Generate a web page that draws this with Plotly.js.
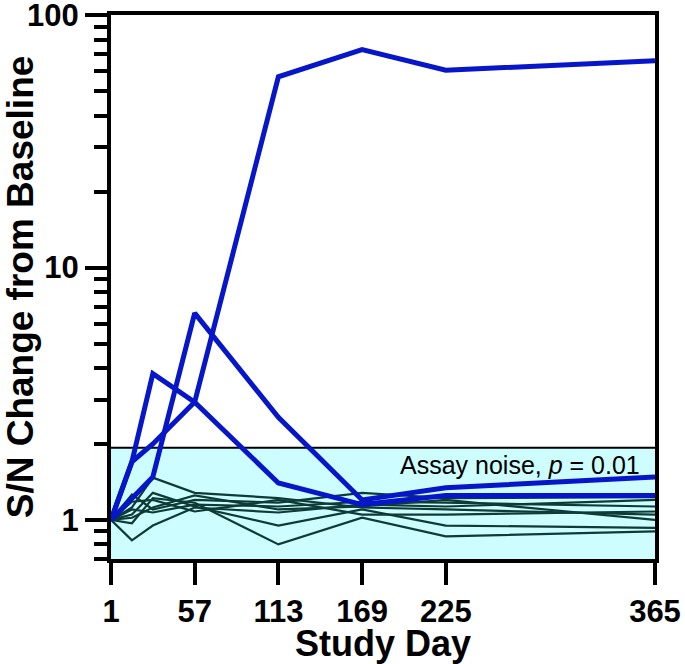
<!DOCTYPE html>
<html>
<head>
<meta charset="utf-8">
<script src="https://cdn.plot.ly/plotly-3.0.1.min.js"></script>
<style>html,body{margin:0;padding:0;background:#fff;}#chart{width:685px;height:664px;}</style>
</head>
<body>
<div id="chart"></div>
<script>
// Study days sampled
var days = [1, 15, 29, 57, 113, 169, 225, 365];

// Responders (blue)
var blueHigh = [1, 1.7, 2.0, 2.93, 57, 73, 60.5, 66];
var blueMid  = [1, 1.22, 1.48, 6.6, 2.55, 1.2, 1.34, 1.48];
var blueLow  = [1, 1.7, 3.8, 2.93, 1.4, 1.15, 1.25, 1.25];

// Non-responders (dark green)
var green1 = [1, 1.12, 1.47, 1.28, 1.22, 1.12, 1.10, 1.05];
var green2 = [1, 1.26, 1.10, 1.20, 1.17, 1.28, 1.22, 1.23];
var green3 = [1, 0.83, 0.95, 1.12, 1.07, 1.15, 1.13, 1.20];
var green4 = [1, 0.97, 1.22, 1.17, 0.80, 1.02, 0.86, 0.90];
var green5 = [1, 1.05, 1.28, 1.13, 0.95, 1.10, 0.95, 0.93];
var green6 = [1, 1.10, 1.07, 1.15, 1.13, 1.18, 1.17, 1.13];
var green7 = [1, 1.18, 1.20, 1.08, 1.20, 1.05, 1.05, 1.08];
var green8 = [1, 1.02, 1.12, 1.25, 1.10, 1.13, 1.20, 1.00];

// Assay noise threshold
var noiseLevel = 1.93;
var noiseLabel = 'Assay noise, <i>p</i> = 0.01';

// Axis ticks
var xTicks = [1, 57, 113, 169, 225, 365];
var yTicks = [1, 10, 100];
var yTickText = ['1', '10', '100'];

var FONT = 'Liberation Sans, Arial, Helvetica, sans-serif';
var greenColor = '#0e3b36';
var blueColor = '#0616c8';

var traces = [];
[green1, green2, green3, green4, green5, green6, green7, green8].forEach(function (g) {
  traces.push({x: days, y: g, mode: 'lines', type: 'scatter',
    line: {color: greenColor, width: 2.2}, hoverinfo: 'skip'});
});
[blueLow, blueMid, blueHigh].forEach(function (b) {
  traces.push({x: days, y: b, mode: 'lines', type: 'scatter',
    line: {color: blueColor, width: 5}, hoverinfo: 'skip'});
});

var layout = {
  width: 685, height: 664,
  margin: {l: 111, r: 30, t: 15, b: 105},
  paper_bgcolor: '#ffffff', plot_bgcolor: '#ffffff',
  showlegend: false,
  font: {family: FONT, color: '#000'},
  xaxis: {
    range: [1, 365], tickvals: xTicks, ticktext: xTicks.map(String),
    showgrid: false, zeroline: false,
    showline: true, linewidth: 4, linecolor: '#000', mirror: true,
    ticks: 'outside', ticklen: 22, tickwidth: 4, tickcolor: '#000',
    ticklabeloverflow: 'allow',
    tickfont: {family: FONT, size: 31, weight: 'bold', color: '#000'},
    title: {text: 'Study Day', font: {family: FONT, size: 36, weight: 'bold', color: '#000'}, standoff: 4}
  },
  yaxis: {
    type: 'log', range: [Math.log10(0.7), 2.0008],
    tickvals: yTicks, ticktext: yTickText,
    showgrid: false, zeroline: false,
    showline: true, linewidth: 4, linecolor: '#000', mirror: true,
    ticks: 'outside', ticklen: 22, tickwidth: 4, tickcolor: '#000',
    ticklabeloverflow: 'allow',
    tickfont: {family: FONT, size: 31, weight: 'bold', color: '#000'},
    minor: {ticks: 'outside', ticklen: 13, tickwidth: 4, tickcolor: '#000', dtick: 'D1', showgrid: false},
    title: {text: 'S/N Change from Baseline', font: {family: FONT, size: 37, weight: 'bold', color: '#000'}, standoff: 4}
  },
  shapes: [
    {type: 'rect', xref: 'paper', yref: 'y', x0: 0, x1: 1, y0: 0.7, y1: noiseLevel,
     fillcolor: '#cdfdff', line: {width: 0}, layer: 'below'},
    {type: 'line', xref: 'paper', yref: 'y', x0: 0, x1: 1, y0: noiseLevel, y1: noiseLevel,
     line: {color: '#000', width: 2}, layer: 'below'}
  ],
  annotations: [
    {xref: 'paper', yref: 'y', x: 0.977, y: Math.log10(1.65), xanchor: 'right', yanchor: 'middle',
     text: noiseLabel, showarrow: false, font: {family: FONT, size: 25, color: '#000'}}
  ]
};

Plotly.newPlot('chart', traces, layout, {displayModeBar: false, staticPlot: true});
</script>
</body>
</html>
